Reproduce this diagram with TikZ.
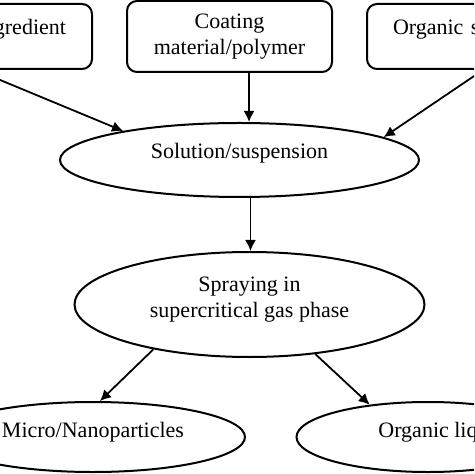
\documentclass[tikz,border=0pt]{standalone}
\usepackage{fontspec}
\setmainfont{Liberation Serif}
\usetikzlibrary{shapes.geometric,arrows.meta}
\begin{document}
\begin{tikzpicture}[x=0.5pt,y=-0.5pt,
  font=\fontsize{11}{13.4}\selectfont,
  box/.style={draw,line width=1pt,rounded corners=5pt,minimum height=32.5pt},
  sidebox/.style={box,inner xsep=13pt,text width=90pt,text height=7.6pt,text depth=9.1pt},
  ell/.style={draw,ellipse,line width=1pt,inner sep=0pt},
  arr/.style={line width=0.9pt,-{Latex[length=5.5pt,width=5.5pt]}}]
  \useasboundingbox (0,0) rectangle (474,474);
  \clip (0,0) rectangle (474,474);
  \node [sidebox,align=right] (ingr) at (-24,36.5) {gredient};
  \node [box,minimum width=102.5pt,minimum height=35.5pt,align=center] (coat) at (229.5,36.5) {Coating\\material/polymer};
  \node [sidebox,align=left] (solv) at (483,36.5) {Organic s};
  \node [ell,minimum width=179.5pt,minimum height=37pt,text height=7.6pt,text depth=9.3pt] (sol) at (239.5,160) {Solution/suspension};
  \node [ell,minimum width=175pt,minimum height=52.5pt,align=center,text depth=7.25pt] (spray) at (249.5,304.5) {Spraying in\\supercritical gas phase};
  \node [ell,minimum width=152pt,minimum height=35pt,text height=7.6pt,text depth=7.6pt] (micro) at (93,437) {Micro/Nanoparticles};
  \node [ell,minimum width=131.5pt,minimum height=35pt,text height=7.6pt,text depth=7.6pt] (liq) at (428,437) {Organic liq};
  \coordinate (c1) at ([xshift=9.75pt]coat.south);
  \coordinate (c2) at ([xshift=5.5pt]sol.south);
  \draw [arr] (ingr.south) -- (sol.166);
  \draw [arr] (c1) -- (c1 |- sol.north);
  \draw [arr] (solv.south) -- (sol.9);
  \draw [arr] (c2) -- (c2 |- spray.north);
  \draw [arr] (spray.205) -- (micro.79);
  \draw [arr] (spray.-37) -- (liq.151);
\end{tikzpicture}
\end{document}
